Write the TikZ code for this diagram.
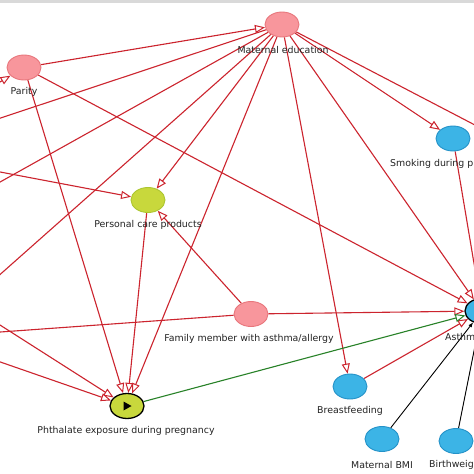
\documentclass[tikz,border=0pt]{standalone}
\usepackage{fontspec}
\setmainfont{DejaVu Sans}
\usetikzlibrary{shapes.geometric,arrows.meta,calc}
\definecolor{edgered}{RGB}{204,36,46}
\definecolor{pinkfill}{RGB}{248,150,156}
\definecolor{pinkdraw}{RGB}{232,118,124}
\definecolor{bluefill}{RGB}{60,180,230}
\definecolor{bluedraw}{RGB}{36,146,200}
\definecolor{limefill}{RGB}{200,216,60}
\definecolor{limedraw}{RGB}{172,198,48}
\definecolor{edgegreen}{RGB}{40,130,40}
\definecolor{txtgray}{RGB}{35,35,35}
\pgfdeclarelayer{edgelayer}
\pgfsetlayers{edgelayer,main}
\tikzset{
  var/.style={ellipse, minimum width=34pt, minimum height=25pt, inner sep=0pt, line width=0.9pt},
  pinkvar/.style={var, fill=pinkfill, draw=pinkdraw},
  bluevar/.style={var, fill=bluefill, draw=bluedraw},
  limevar/.style={var, fill=limefill, draw=limedraw},
  expvar/.style={var, fill=limefill, draw=black, line width=1.3pt},
  outvar/.style={var, fill=bluefill, draw=black, line width=1.3pt},
  lbl/.style={font=\fontsize{9.4}{11}\selectfont, text=txtgray, inner sep=0pt},
  redarrow/.style={draw=edgered, line width=1.1pt, -{Triangle[length=10pt,width=8pt,fill=white,line width=1pt]}},
  greenarrow/.style={draw=edgegreen, line width=1.1pt, -{Triangle[length=10pt,width=8pt,fill=white,line width=1pt]}},
  blackarrow/.style={draw=black, line width=0.9pt, -{Latex[length=5pt,width=4pt]}},
}
\begin{document}
\begin{tikzpicture}[x=1pt,y=-1pt]
\useasboundingbox (0,0) rectangle (474,474);
\clip (0,0) rectangle (474,474);

% variables
\node[pinkvar] (me) at (282,24.5) {};
\node[pinkvar] (par) at (24,67.5) {};
\node[limevar] (pcp) at (148,200) {};
\node[bluevar] (smk) at (453,138.5) {};
\node[pinkvar] (fm) at (251,314) {};
\node[expvar] (pe) at (127,406) {};
\node[outvar] (ast) at (482,311) {};
\node[bluevar] (bf) at (350,386.5) {};
\node[bluevar] (bmi) at (382,439) {};
\node[bluevar] (bw) at (456,441) {};
\fill[black] ($(pe)+(-3.5,-4.5)$) -- ++(8,4.5) -- ++(-8,4.5) -- cycle;

% labels
\node[lbl] (meL) at (283,50) {Maternal education};
\node[lbl] (parL) at (24,92) {Parity};
\node[lbl] (pcpL) at (148,225) {Personal care products};
\node[lbl, anchor=west] (smkL) at (390,164) {Smoking during pregnancy};
\node[lbl] (fmL) at (249,339) {Family member with asthma/allergy};
\node[lbl] (peL) at (126,431) {Phthalate exposure during pregnancy};
\node[lbl, anchor=west] (astL) at (445,337) {Asthma};
\node[lbl] (bfL) at (350,411) {Breastfeeding};
\node[lbl] (bmiL) at (382,465) {Maternal BMI};
\node[lbl, anchor=west] (bwL) at (429,465) {Birthweight};

% connector ends outside the visible frame
\coordinate (L1) at (-40,131.5);
\coordinate (L2) at (-40,204.4);
\coordinate (L3) at (-40,310);
\coordinate (L4) at (-30,100);
\coordinate (L5) at (-40,164.4);
\coordinate (L6) at (-40,334.9);
\coordinate (L7) at (-40,299.5);
\coordinate (L8) at (-40,348);
\coordinate (R1) at (520,148.5);

\begin{pgfonlayer}{edgelayer}
\clip (0,0) rectangle (474,474);
\fill[white] (0,0) rectangle (474,474);
\fill[gray!30] (0,0) rectangle (474,3);
\draw[redarrow] (par) -- (me);
\draw[redarrow] (me) -- (L1);
\draw[redarrow] (me) -- (L2);
\draw[redarrow] (me) -- (pcp);
\draw[redarrow] (me) -- (L3);
\draw[redarrow] (me) -- (pe);
\draw[redarrow] (me) -- (bf);
\draw[redarrow] (me) -- (ast);
\draw[redarrow] (me) -- (smk);
\draw[redarrow] (me) -- (R1);
\draw[redarrow] (par) -- (ast);
\draw[redarrow] (par) -- (pe);
\draw[redarrow] (L4) -- (par);
\draw[redarrow] (L5) -- (pcp);
\draw[redarrow] (pcp) -- (pe);
\draw[redarrow] (fm) -- (pcp);
\draw[redarrow] (fm) -- (L6);
\draw[redarrow] (fm) -- (ast);
\draw[redarrow] (L7) -- (pe);
\draw[redarrow] (L8) -- (pe);
\draw[redarrow] (bf) -- (ast);
\draw[redarrow] (smk) -- (ast);
\draw[greenarrow] (pe) -- (ast);
\draw[blackarrow] (bmi) -- (ast);
\draw[blackarrow] (bw) -- (ast);
\end{pgfonlayer}
\end{tikzpicture}
\end{document}
